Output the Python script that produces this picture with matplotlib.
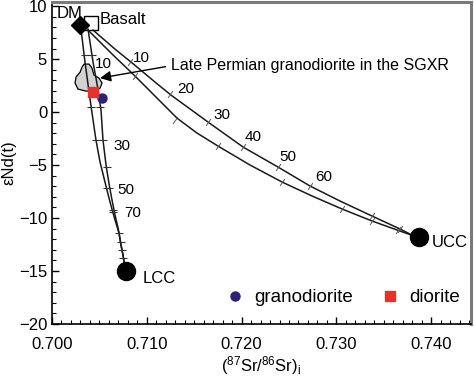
import matplotlib
matplotlib.use('Agg')
import matplotlib.pyplot as plt
from matplotlib.ticker import MultipleLocator
from matplotlib.patches import Polygon

plt.rcParams['font.family'] = ['Liberation Sans', 'DejaVu Sans']
plt.rcParams['mathtext.fontset'] = 'custom'
plt.rcParams['mathtext.rm'] = 'Liberation Sans'
plt.rcParams['mathtext.it'] = 'Liberation Sans:italic'

# end members
dm = (0.7030, 8.2)
basalt = (0.7041, 8.4)
lcc = (0.7078, -15.0)
ucc = (0.7387, -11.8)

# samples
grano_x = [0.70528]
grano_y = [1.32]
dior_x = [0.70433]
dior_y = [1.89]

# mixing curves
dm_lcc_x = [0.70306, 0.70348, 0.70401, 0.70433, 0.70464, 0.70507, 0.70559, 0.70612, 0.70665, 0.70707, 0.70728, 0.70749, 0.70760]
dm_lcc_y = [7.83, 4.72, 1.23, -0.75, -2.64, -4.72, -6.60, -8.49, -10.19, -11.42, -12.55, -13.49, -14.15]
bas_lcc_x = [0.70380, 0.70433, 0.70485, 0.70517, 0.70538, 0.70570, 0.70602, 0.70633, 0.70665, 0.70697, 0.70707, 0.70728, 0.70749, 0.70760]
bas_lcc_y = [7.83, 4.72, 2.17, 0.19, -2.64, -5.0, -6.79, -8.30, -9.72, -10.94, -11.42, -12.55, -13.49, -14.15]
dm_ucc_x = [0.70380, 0.70623, 0.70876, 0.71108, 0.71319, 0.71530, 0.71752, 0.72090, 0.72427, 0.72744, 0.73061, 0.73377, 0.73673, 0.73820]
dm_ucc_y = [7.74, 5.57, 3.40, 1.32, -0.57, -1.98, -3.21, -5.0, -6.60, -7.92, -9.15, -10.28, -11.23, -11.70]
bas_ucc_x = [0.70433, 0.70665, 0.70834, 0.71087, 0.71256, 0.71646, 0.72016, 0.72385, 0.72723, 0.73040, 0.73377, 0.73673, 0.73820]
bas_ucc_y = [7.74, 5.94, 4.72, 2.83, 1.60, -0.94, -3.30, -5.19, -6.98, -8.40, -9.81, -11.04, -11.70]

# tick marks on curves
lcc_tick_x = [0.70348, 0.70412, 0.70464, 0.70580, 0.70644, 0.70707, 0.70728, 0.70739, 0.70749,
              0.70422, 0.70507, 0.70538, 0.70580, 0.70602, 0.70644]
lcc_tick_y = [5.38, 0.47, -2.64, -7.17, -9.43, -11.42, -12.26, -13.02, -13.77,
              5.38, 0.47, -2.64, -5.19, -7.17, -9.25]
ucc_tick_x = [0.70823, 0.71245, 0.71646, 0.72016, 0.72385, 0.72723, 0.73377, 0.73673,
              0.70876, 0.71298, 0.71752, 0.72427, 0.73061, 0.73377, 0.73652]
ucc_tick_y = [4.72, 1.70, -0.94, -3.30, -5.19, -6.98, -9.81, -11.04,
              3.40, -0.75, -3.21, -6.60, -9.15, -10.28, -11.13]

# percentage labels
ucc_pct = ['10', '20', '30', '40', '50', '60']
ucc_pct_x = [0.70855, 0.71319, 0.71699, 0.72037, 0.72396, 0.72776]
ucc_pct_y = [5.09, 2.17, -0.28, -2.36, -4.25, -6.13]
lcc_pct = ['10', '30', '50', '70']
lcc_pct_x = [0.70454, 0.70644, 0.70686, 0.70760]
lcc_pct_y = [4.53, -3.21, -7.36, -9.53]

# field of Late Permian granodiorite
field_x = [0.70338, 0.70391, 0.70422, 0.70443, 0.70496, 0.70528, 0.70507, 0.70454, 0.70359, 0.70274, 0.70243, 0.70253, 0.70296, 0.70317]
field_y = [4.53, 4.53, 4.15, 3.49, 3.21, 2.74, 2.26, 1.98, 1.98, 2.17, 2.74, 3.30, 3.77, 4.25]

fig = plt.figure(figsize=(4.74, 3.79), dpi=100)
ax = fig.add_axes([0.1097, 0.145, 0.8840, 0.850])

ax.add_patch(Polygon(list(zip(field_x, field_y)), closed=True, fc='#d2d2d2', ec='black', lw=0.9, zorder=2))

for cx, cy in [(dm_lcc_x, dm_lcc_y), (bas_lcc_x, bas_lcc_y), (dm_ucc_x, dm_ucc_y), (bas_ucc_x, bas_ucc_y)]:
    ax.plot(cx, cy, '-', color='#1a1a1a', lw=1.1, zorder=3)
ax.plot(lcc_tick_x, lcc_tick_y, ls='none', marker='_', ms=6, mew=0.8, color='#333333', zorder=3)
ax.plot(ucc_tick_x, ucc_tick_y, ls='none', marker=(2, 0, -35), ms=6, mew=0.7, color='#555555', zorder=3)

ax.plot(*basalt, marker='s', ms=9.5, mfc='white', mec='black', mew=1.0, zorder=2)
ax.plot(*dm, marker='D', ms=9, color='black', zorder=5)
ax.plot(*lcc, marker='o', ms=13, color='black', zorder=5)
ax.plot(*ucc, marker='o', ms=13, color='black', zorder=5)

ax.plot(grano_x, grano_y, 'o', ms=6.5, color='#2d2078', ls='none', label='granodiorite', zorder=6)
ax.plot(dior_x, dior_y, 's', ms=7.5, color='#e8302c', ls='none', label='diorite', zorder=6)

for t, x, y in zip(ucc_pct, ucc_pct_x, ucc_pct_y):
    ax.text(x, y, t, fontsize=11, ha='left', va='center')
for t, x, y in zip(lcc_pct, lcc_pct_x, lcc_pct_y):
    ax.text(x, y, t, fontsize=11, ha='left', va='center')

ax.text(0.70053, 9.34, 'DM', fontsize=12, ha='left', va='center')
ax.text(0.70507, 8.77, 'Basalt', fontsize=12, ha='left', va='center')
ax.text(0.70960, -15.66, 'LCC', fontsize=12, ha='left', va='center')
ax.text(0.74011, -12.26, 'UCC', fontsize=12, ha='left', va='center')

ax.annotate('Late Permian granodiorite in the SGXR', xy=(0.70507, 3.21), xytext=(0.71256, 4.43),
            fontsize=11.5, ha='left', va='center',
            arrowprops=dict(arrowstyle='-|>', color='black', lw=1.0, mutation_scale=16,
                            shrinkA=0, shrinkB=0, relpos=(-0.02, 0.4)))

ax.legend(loc='lower right', bbox_to_anchor=(1.0, 0.02), ncol=2, frameon=False, fontsize=13.5,
          handletextpad=0.5, columnspacing=1.5, handlelength=1.0, borderaxespad=0.2)

ax.set_xlim(0.700, 0.7442)
ax.set_ylim(-20, 10.4)
ax.xaxis.set_major_locator(MultipleLocator(0.01))
ax.xaxis.set_minor_locator(MultipleLocator(0.001))
ax.yaxis.set_major_locator(MultipleLocator(5))
ax.yaxis.set_minor_locator(MultipleLocator(1))
ax.xaxis.set_major_formatter(plt.FormatStrFormatter('%.3f'))
ax.tick_params(which='both', direction='in', top=False, right=False, labelsize=12)
ax.tick_params(which='major', length=5, width=1)
ax.tick_params(which='minor', length=3, width=0.8)
ax.tick_params(axis='x', pad=9)

for s in ['top', 'right']:
    ax.spines[s].set_color('#7a7a7a')
    ax.spines[s].set_linewidth(2.2)
for s in ['left', 'bottom']:
    ax.spines[s].set_linewidth(1.2)

ax.set_xlabel(r'$(^{87}\mathrm{Sr}/^{86}\mathrm{Sr})_{\mathrm{i}}$', fontsize=12, labelpad=2)
ax.set_ylabel('εNd(t)', fontsize=12, labelpad=2)

fig.savefig('out.png', dpi=100)
